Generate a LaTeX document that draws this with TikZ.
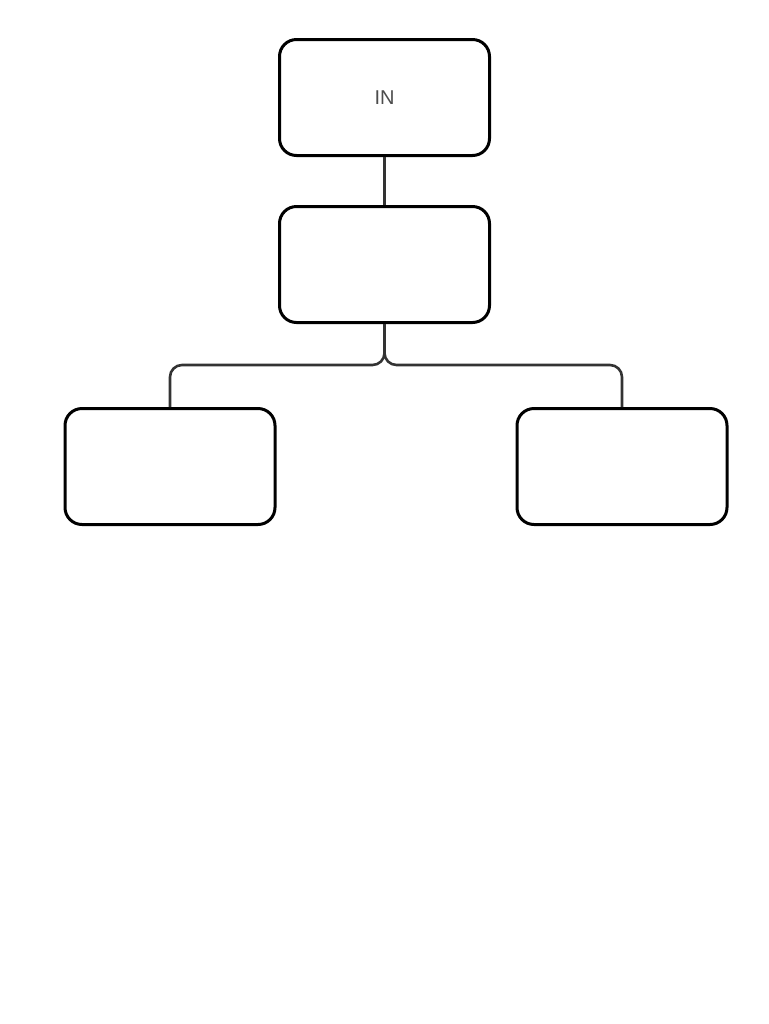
\documentclass[tikz,border=0pt]{standalone}
\usepackage{fontspec}
\setmainfont{Liberation Sans}
\begin{document}
\begin{tikzpicture}[x=0.5pt, y=-0.5pt,
		box/.style={draw, line width=1.5pt, rounded corners=8.5pt, minimum width=105pt, minimum height=58pt, inner sep=0pt},
		link/.style={line width=1.3pt, draw=black!80, rounded corners=6pt}]
		\useasboundingbox (0,0) rectangle (768,1024);
		%boxes
		\node[box, text=black!70, font=\normalsize] (in) at (384.5, 97.5){IN};
		\node[box] (mid) at (384.5, 264.5){};
		\node[box] (left) at (170, 466.5){};
		\node[box] (right) at (622, 466.5){};
		
		%links
		\coordinate (split) at (384.5, 365);
		\draw[link] (in) -- (mid);
		\draw[link] (mid.south) -- (mid.south |- split) -- (left.north |- split) -- (left.north);
		\draw[link] (mid.south) -- (mid.south |- split) -- (right.north |- split) -- (right.north);
		\end{tikzpicture}
\end{document}
